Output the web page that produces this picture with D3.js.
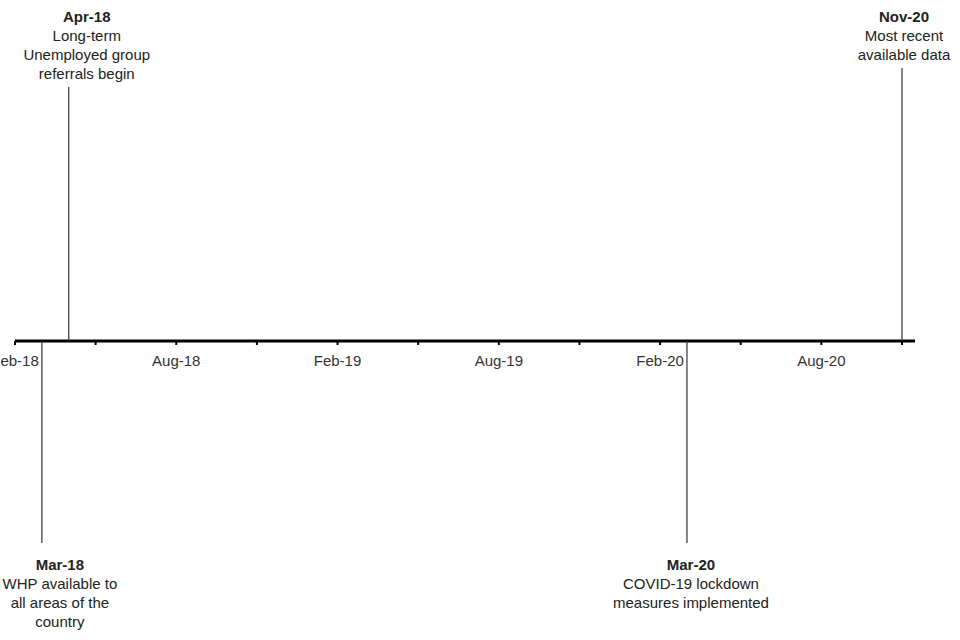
<!DOCTYPE html>
<html><head><meta charset="utf-8">
<script src="https://cdn.jsdelivr.net/npm/d3@7"></script>
<style>body{margin:0;background:#fff}text{font-family:"Liberation Sans",Arial,sans-serif}</style>
</head><body>
<script>
// months counted from Feb-18
const tickLabels = ["Feb-18", "Aug-18", "Feb-19", "Aug-19", "Feb-20", "Aug-20"];
const tickMonths = [0, 6, 12, 18, 24, 30];
const eventDates = ["Apr-18", "Mar-18", "Mar-20", "Nov-20"];
const eventMonths = [2, 1, 25, 33];
const eventSides = ["up", "down", "down", "up"];
const eventTexts = [
  ["Long-term", "Unemployed group", "referrals begin"],
  ["WHP available to", "all areas of the", "country"],
  ["COVID-19 lockdown", "measures implemented"],
  ["Most recent", "available data"]
];

const width = 960, height = 640, axisY = 341;
// text boxes sit a little right of their stems near the left edge
const labelShift = [18, 18, 4, 2];
const svg = d3.select("body").append("svg").attr("width", width).attr("height", height);
const x = d3.scaleLinear().domain([0, 33]).range([15, 902]);

svg.append("line").attr("x1", x(0)).attr("x2", 915).attr("y1", axisY).attr("y2", axisY)
  .attr("stroke", "#000").attr("stroke-width", 3);
svg.selectAll(".tk").data(d3.range(0, 34, 3)).enter().append("line")
  .attr("x1", d => x(d)).attr("x2", d => x(d)).attr("y1", axisY).attr("y2", axisY + 4)
  .attr("stroke", "#000").attr("stroke-width", 2);
svg.selectAll(".lbl").data(tickLabels).enter().append("text")
  .attr("x", (d, i) => x(tickMonths[i])).attr("y", axisY + 25)
  .attr("text-anchor", "middle").attr("font-size", 15).attr("fill", "#333").text(d => d);

eventDates.forEach((d, i) => {
  const cx = x(eventMonths[i]);
  const tx = cx + labelShift[i];
  const up = eventSides[i] === "up";
  const lines = eventTexts[i];
  const topY = up ? 22 : 570;
  const stemEnd = up ? topY + 19 * lines.length + 8 : 543;
  svg.append("line").attr("x1", cx).attr("x2", cx)
    .attr("y1", up ? stemEnd : axisY).attr("y2", up ? axisY : stemEnd)
    .attr("stroke", "#333").attr("stroke-width", 1.2);
  const t = svg.append("text").attr("text-anchor", "middle").attr("font-size", 15).attr("fill", "#222");
  t.append("tspan").attr("x", tx).attr("y", topY).attr("font-weight", "bold").text(d);
  lines.forEach((l, j) => t.append("tspan").attr("x", tx).attr("y", topY + 19 * (j + 1)).text(l));
});
</script>
</body></html>
